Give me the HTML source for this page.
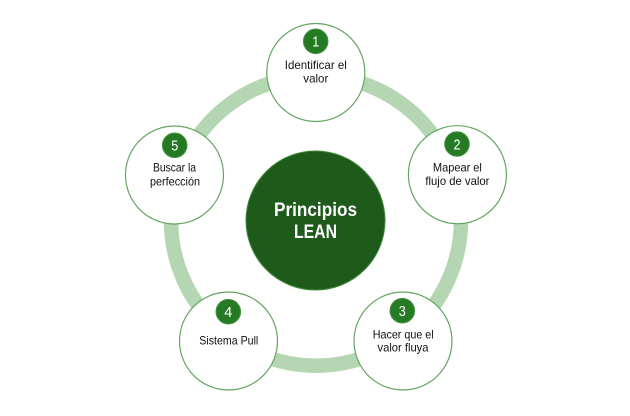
<!DOCTYPE html>
<html>
<head>
<meta charset="utf-8">
<style>
html,body{margin:0;padding:0;background:#fff;width:630px;height:416px;overflow:hidden}
svg{display:block;filter:blur(0.3px)}
text{font-family:"Liberation Sans",sans-serif;text-anchor:middle}
.l{font-size:12px;fill:#111}
.n{font-size:15px;fill:#fff}
.c{fill:#fff;stroke:#62a65e;stroke-width:1.2}
.b{fill:#257a24;stroke:#4a9347;stroke-width:1}
</style>
</head>
<body>
<svg width="630" height="416" viewBox="0 0 630 416" xmlns="http://www.w3.org/2000/svg">
<circle cx="316" cy="220.7" r="145" fill="none" stroke="#b5d6b2" stroke-width="14.5"/>
<circle cx="315.5" cy="220.5" r="69.5" fill="#1e5a1a" stroke="#3f8a3b" stroke-width="1"/>
<text x="315.5" y="216" font-size="19" font-weight="bold" fill="#fff" textLength="83" lengthAdjust="spacingAndGlyphs">Principios</text>
<text x="315.5" y="238" font-size="19" font-weight="bold" fill="#fff" textLength="43" lengthAdjust="spacingAndGlyphs">LEAN</text>

<circle class="c" cx="315.8" cy="72.5" r="49"/>
<circle class="b" cx="315.7" cy="41.3" r="12.3"/>
<text class="n" x="315.7" y="46.5" textLength="7" lengthAdjust="spacingAndGlyphs">1</text>
<text class="l" x="315.8" y="69" textLength="62" lengthAdjust="spacingAndGlyphs">Identificar el</text>
<text class="l" x="315.8" y="82.6" textLength="25" lengthAdjust="spacingAndGlyphs">valor</text>

<circle class="c" cx="457.4" cy="174.7" r="49"/>
<circle class="b" cx="457" cy="144" r="12.3"/>
<text class="n" x="457" y="149.3" textLength="7" lengthAdjust="spacingAndGlyphs">2</text>
<text class="l" x="457.4" y="171.7" textLength="49" lengthAdjust="spacingAndGlyphs">Mapear el</text>
<text class="l" x="457.4" y="185" textLength="64" lengthAdjust="spacingAndGlyphs">flujo de valor</text>

<circle class="c" cx="403" cy="341" r="49"/>
<circle class="b" cx="402.3" cy="310.7" r="12.3"/>
<text class="n" x="402.3" y="316" textLength="7" lengthAdjust="spacingAndGlyphs">3</text>
<text class="l" x="403.2" y="338.3" textLength="61" lengthAdjust="spacingAndGlyphs">Hacer que el</text>
<text class="l" x="403" y="351.5" textLength="51" lengthAdjust="spacingAndGlyphs">valor fluya</text>

<circle class="c" cx="228.5" cy="341" r="49"/>
<circle class="b" cx="228.3" cy="311.7" r="12.3"/>
<text class="n" x="228.3" y="317" textLength="8" lengthAdjust="spacingAndGlyphs">4</text>
<text class="l" x="228.8" y="344.3" textLength="59" lengthAdjust="spacingAndGlyphs">Sistema Pull</text>

<circle class="c" cx="174.5" cy="175" r="49"/>
<circle class="b" cx="174.7" cy="145.3" r="12.3"/>
<text class="n" x="174.7" y="150.6" textLength="7" lengthAdjust="spacingAndGlyphs">5</text>
<text class="l" x="174.5" y="171.7" textLength="43" lengthAdjust="spacingAndGlyphs">Buscar la</text>
<text class="l" x="175" y="185.7" textLength="50" lengthAdjust="spacingAndGlyphs">perfección</text>
</svg>
</body>
</html>
